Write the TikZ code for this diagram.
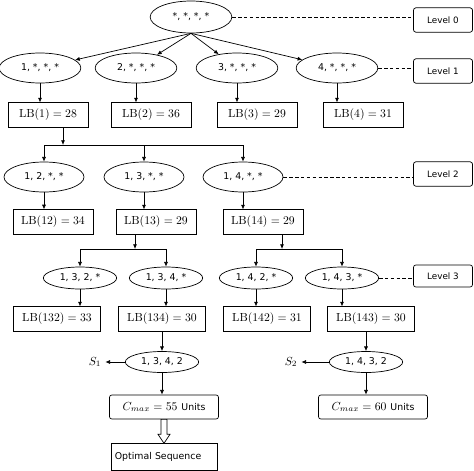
\documentclass[tikz,border=0pt]{standalone}
\usepackage{fontspec}
\setsansfont{DejaVu Sans}
\usetikzlibrary{shapes.geometric, arrows.meta, calc}

\begin{document}
\begin{tikzpicture}[
        x=0.03cm, y=-0.03cm,
        >={Latex[length=4pt, width=3.5pt]},
        state/.style={ellipse, draw, semithick, inner sep=0pt, align=center,
                font=\sffamily\fontsize{8}{9}\selectfont,
                minimum width=2.45cm, minimum height=0.9cm},
        leaf/.style={state, minimum width=2.2cm, minimum height=0.66cm},
        bound/.style={rectangle, draw, semithick, inner sep=0pt,
                font=\fontsize{10}{12}\selectfont,
                minimum width=2.4cm, minimum height=0.73cm},
        levelbox/.style={rectangle, draw, semithick, rounded corners=2pt,
                font=\sffamily\fontsize{7.5}{9}\selectfont,
                minimum width=1.77cm, minimum height=0.73cm},
        result/.style={rectangle, draw, semithick, rounded corners=2pt,
                font=\fontsize{10}{12}\selectfont,
                minimum width=3.27cm, minimum height=0.72cm},
        arrow/.style={->, semithick},
        levelline/.style={semithick, dashed, dash pattern=on 3pt off 2pt},
    ]
    \useasboundingbox (0,0) rectangle (474,470);

    % --- level 0 ----------------------------------------------------
    \node[state, minimum height=0.96cm] (root) at (191,17) {*, *, *, *};
    \node[levelbox] (lvl0) at (443,20) {Level 0};

    % --- level 1 ----------------------------------------------------
    \node[state] (e1) at (40,68)  {1, *, *, *};
    \node[state] (e2) at (136,68) {2, *, *, *};
    \node[state] (e3) at (237,68) {3, *, *, *};
    \node[state] (e4) at (337,68) {4, *, *, *};
    \node[levelbox] (lvl1) at (443,71) {Level 1};

    \node[bound] (lb1) at (48,115)  {$\mathrm{LB}(1) = 28$};
    \node[bound] (lb2) at (151,115) {$\mathrm{LB}(2) = 36$};
    \node[bound] (lb3) at (257,115) {$\mathrm{LB}(3) = 29$};
    \node[bound] (lb4) at (363,115) {$\mathrm{LB}(4) = 31$};

    % --- level 2 ----------------------------------------------------
    \node[state, minimum width=2.4cm] (f1) at (44,177)  {1, 2, *, *};
    \node[state, minimum width=2.4cm] (f2) at (144,177) {1, 3, *, *};
    \node[state, minimum width=2.4cm] (f3) at (243,177) {1, 4, *, *};
    \node[levelbox] (lvl2) at (443,174) {Level 2};

    \node[bound, thick] (lb12) at (53,222)  {$\mathrm{LB}(12) = 34$};
    \node[bound]        (lb13) at (156,222) {$\mathrm{LB}(13) = 29$};
    \node[bound]        (lb14) at (263,222) {$\mathrm{LB}(14) = 29$};

    % --- level 3 ----------------------------------------------------
    \node[leaf] (g1) at (80,278)  {1, 3, 2, *};
    \node[leaf] (g2) at (166,278) {1, 3, 4, *};
    \node[leaf] (g3) at (256,278) {1, 4, 2, *};
    \node[leaf] (g4) at (342,278) {1, 4, 3, *};
    \node[levelbox, minimum height=0.66cm] (lvl3) at (443,276) {Level 3};

    \node[bound, minimum width=2.61cm] (lb132) at (57,319)  {$\mathrm{LB}(132) = 33$};
    \node[bound, minimum width=2.61cm] (lb134) at (162,319) {$\mathrm{LB}(134) = 30$};
    \node[bound, minimum width=2.61cm] (lb142) at (267,319) {$\mathrm{LB}(142) = 31$};
    \node[bound, minimum width=2.61cm] (lb143) at (371,319) {$\mathrm{LB}(143) = 30$};

    % --- complete sequences ----------------------------------------
    \node[leaf, minimum height=0.63cm] (h1) at (162,362) {1, 3, 4, 2};
    \node[leaf, minimum height=0.63cm] (h2) at (366,362) {1, 4, 3, 2};
    \node (s1) at (95,362)  {$S_1$};
    \node (s2) at (291,362) {$S_2$};

    \node[result] (cmax1) at (164,407) {$C_{max} = 55$ {\sffamily\fontsize{8}{9}\selectfont Units}};
    \node[result] (cmax2) at (373,407) {$C_{max} = 60$ {\sffamily\fontsize{8}{9}\selectfont Units}};
    \node[rectangle, draw, semithick, minimum width=3.15cm, minimum height=0.8cm,
        text width=2.95cm, align=left, font=\sffamily\fontsize{8}{9}\selectfont]
        (opt) at (164,457) {Optimal Sequence};

    % --- tree connectors --------------------------------------------
    \foreach \n in {e1,e2,e3,e4}
        \draw[arrow] (root.south) -- (\n);
    \foreach \a/\b in {e1/lb1, e2/lb2, e3/lb3, e4/lb4, f1/lb12, f2/lb13, f3/lb14,
                       g1/lb132, g2/lb134, g3/lb142, g4/lb143}
        \draw[arrow] (\a.south) -- (\a.south |- \b.north);

    \coordinate (j1) at (63,145);
    \draw[arrow] (lb1.south -| j1) -- (j1);
    \draw[semithick] (f1.center |- j1) -- (f3.center |- j1);
    \foreach \n in {f1,f2,f3}
        \draw[arrow] (\n.center |- j1) -- (\n.north);

    \coordinate (j2) at (135,249);
    \draw[arrow] (lb13.south -| j2) -- (j2);
    \draw[semithick] (g1.center |- j2) -- (g2.center |- j2);
    \coordinate (j3) at (282,249);
    \draw[arrow] (lb14.south -| j3) -- (j3);
    \draw[semithick] (g3.center |- j3) -- (g4.center |- j3);
    \foreach \n in {g1,g2}
        \draw[arrow] (\n.center |- j2) -- (\n.north);
    \foreach \n in {g3,g4}
        \draw[arrow] (\n.center |- j3) -- (\n.north);

    \draw[arrow] (h1.north |- lb134.south) -- (h1.north);
    \draw[arrow] (h2.north |- lb143.south) -- (h2.north);
    \draw[arrow] (h1.west) -- (s1.east);
    \draw[arrow] (h2.west) -- (s2.east);
    \draw[arrow] (h1.south) -- (h1.south |- cmax1.north);
    \draw[arrow] (h2.south) -- (h2.south |- cmax2.north);

    % hollow arrow to the optimal sequence
    \draw[semithick, fill=white] (opt.north) -- ($(opt.north)+(-6,-9)$)
        -- ($(opt.north)+(-3,-9)$) -- ($(cmax1.south)+(-3,0)$)
        -- ($(cmax1.south)+(3,0)$) -- ($(opt.north)+(3,-9)$)
        -- ($(opt.north)+(6,-9)$) -- cycle;

    % --- level markers ----------------------------------------------
    \draw[levelline] (root.east) -- (root.east -| lvl0.west);
    \draw[levelline] (e4.east) -- (e4.east -| lvl1.west);
    \draw[levelline] (f3.east) -- (f3.east -| lvl2.west);
    \draw[levelline] (g4.east) -- (g4.east -| lvl3.west);
\end{tikzpicture}
\end{document}
